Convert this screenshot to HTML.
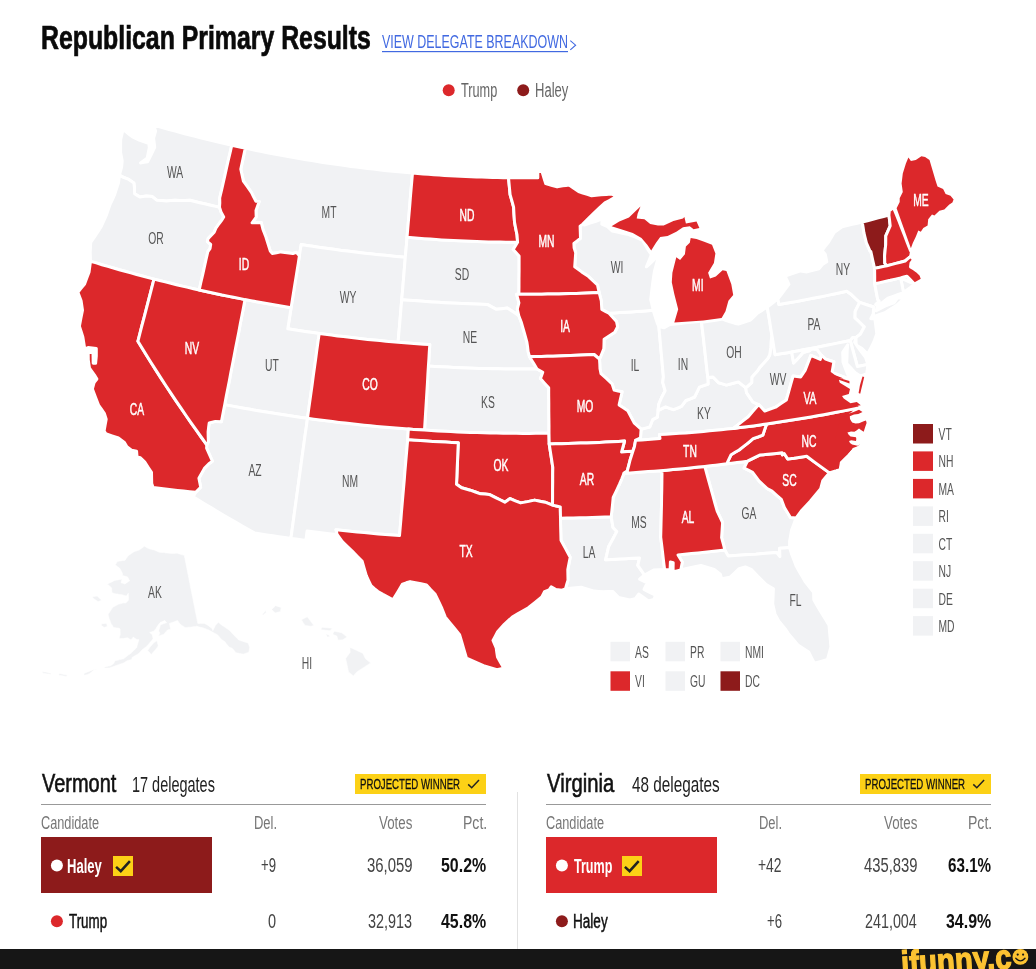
<!DOCTYPE html>
<html lang="en"><head><meta charset="utf-8"><title>Republican Primary Results</title>
<style>
html,body{margin:0;padding:0;background:#fff}
body{width:1036px;height:969px;position:relative;overflow:hidden;font-family:"Liberation Sans", Arial, sans-serif}
.t{position:absolute;white-space:nowrap;line-height:1;display:block}
.lnk{text-decoration:none}
.abs{position:absolute}
svg{position:absolute;left:0;top:0}
svg text{font-family:"Liberation Sans", Arial, sans-serif;font-size:17.2px;text-anchor:middle}
svg text.s{text-anchor:start;fill:#555}
svg text.w{stroke:#fff;stroke-width:0.5px}
#states path{stroke:#fff;stroke-width:3;stroke-linejoin:round}
#states path.px{stroke:none}
#states path.thin{stroke-width:0.6}
</style></head><body>
<svg width="1036" height="969" viewBox="0 0 1036 969">
<g id="states">
<path d="M153.5,125.1L158.7,126.6L163.9,128.0L169.1,129.5L174.3,130.9L179.5,132.3L184.7,133.7L189.9,135.1L195.1,136.4L200.3,137.7L205.6,139.0L210.8,140.3L216.0,141.5L221.3,142.8L226.5,144.0L231.8,145.2L230.1,152.7L228.3,160.2L226.6,167.7L224.9,175.3L223.2,182.8L221.5,190.4L219.7,198.0L219.8,203.0L219.5,207.2L214.5,206.1L209.6,205.0L204.6,203.8L199.7,202.7L194.8,201.5L189.9,200.3L184.9,200.6L180.0,200.4L175.1,200.3L170.8,200.6L166.5,200.9L161.6,200.6L156.7,200.2L152.3,196.6L149.3,196.2L146.3,195.9L139.9,196.9L137.2,195.4L134.6,193.8L134.5,188.7L133.9,183.0L131.0,181.1L128.1,179.1L122.6,177.0L119.4,175.0L121.6,167.2L122.2,160.8L120.6,152.6L120.6,146.0L120.7,139.4L121.9,134.4L123.1,129.5L126.4,132.1L129.7,134.7L133.1,137.2L136.1,138.7L139.2,140.1L142.8,141.4L146.4,142.7L148.7,142.3L149.3,147.9L148.2,153.1L147.1,158.3L140.5,162.9L144.0,162.3L147.6,161.7L151.0,155.0L154.7,147.3L153.6,138.2L155.6,131.1Z" fill="#f1f2f4"/>
<path d="M119.4,175.0L122.6,177.0L128.1,179.1L131.0,181.1L133.9,183.0L134.5,188.7L134.6,193.8L137.2,195.4L139.9,196.9L146.3,195.9L149.3,196.2L152.3,196.6L156.7,200.2L161.6,200.6L166.5,200.9L170.8,200.6L175.1,200.3L180.0,200.4L184.9,200.6L189.9,200.3L194.8,201.5L199.7,202.7L204.6,203.8L209.6,205.0L214.5,206.1L219.5,207.2L221.0,211.9L223.7,216.9L222.0,219.8L219.2,223.5L215.9,228.2L214.2,232.2L208.2,238.4L207.4,241.6L210.7,244.5L210.0,248.7L207.9,251.5L206.1,259.2L204.4,266.9L202.7,274.6L200.9,282.3L199.2,290.0L193.5,288.7L187.9,287.4L182.2,286.1L176.5,284.7L170.9,283.3L165.2,281.9L159.6,280.5L154.0,279.1L148.2,277.6L142.4,276.0L136.6,274.5L130.8,272.9L125.0,271.3L119.3,269.7L113.5,268.0L107.8,266.4L102.0,264.7L96.3,262.9L90.5,261.2L90.2,252.2L90.5,247.3L90.7,242.5L95.2,235.8L98.3,231.2L101.3,226.5L103.9,220.7L106.5,214.8L108.2,209.7L110.0,204.7L112.3,199.9L114.5,195.0L116.5,188.9L118.5,182.9Z" fill="#f1f2f4"/>
<path d="M245.3,148.1L250.8,149.3L256.3,150.5L261.8,151.6L267.4,152.7L272.9,153.8L278.4,154.8L284.0,155.8L289.5,156.8L295.1,157.8L300.6,158.8L306.2,159.7L311.8,160.6L317.3,161.5L322.9,162.4L328.5,163.2L334.1,164.1L339.6,164.8L345.2,165.6L350.8,166.4L356.4,167.1L362.0,167.8L367.6,168.5L373.2,169.1L378.8,169.8L384.4,170.4L390.0,170.9L395.6,171.5L401.3,172.0L406.9,172.6L412.5,173.0L411.8,181.0L411.1,189.0L410.4,197.1L409.8,205.1L409.1,213.1L408.4,221.2L407.7,229.3L407.0,237.3L406.5,244.0L405.9,250.6L405.3,257.2L399.5,256.7L393.7,256.2L387.9,255.6L382.1,255.1L376.3,254.5L370.5,253.8L364.7,253.2L359.0,252.5L353.2,251.8L347.4,251.1L341.6,250.4L335.8,249.6L330.0,248.8L324.3,248.0L318.5,247.2L312.7,246.3L307.0,245.4L301.2,244.5L300.3,250.1L299.4,255.6L296.2,252.3L292.9,253.5L286.9,252.7L280.9,251.9L276.6,252.7L272.2,253.4L270.3,251.1L267.7,242.8L266.0,237.3L262.9,229.2L261.3,222.6L256.7,222.7L252.1,222.8L256.2,217.1L256.0,210.6L257.6,206.1L259.2,201.5L255.9,201.3L253.6,196.9L251.4,192.4L247.4,186.7L243.4,181.1L242.1,175.1L240.8,169.1L242.3,162.1L243.8,155.1Z" fill="#f1f2f4"/>
<path d="M301.2,244.5L307.0,245.4L312.7,246.3L318.5,247.2L324.3,248.0L330.0,248.8L335.8,249.6L341.6,250.4L347.4,251.1L353.2,251.8L359.0,252.5L364.7,253.2L370.5,253.8L376.3,254.5L382.1,255.1L387.9,255.6L393.7,256.2L399.5,256.7L405.3,257.2L404.6,265.7L403.9,274.2L403.2,282.7L402.5,291.2L401.7,299.7L401.0,308.2L400.3,316.7L399.6,325.2L398.8,333.7L398.1,342.3L392.0,341.7L385.9,341.2L379.9,340.6L373.8,340.0L367.7,339.4L361.6,338.7L355.6,338.0L349.5,337.3L343.4,336.6L337.4,335.9L331.3,335.1L325.2,334.3L319.2,333.5L312.9,332.6L306.6,331.7L300.3,330.7L294.0,329.8L287.8,328.8L288.9,321.7L290.0,314.7L291.1,307.7L292.3,300.2L293.5,292.8L294.7,285.3L295.9,277.9L297.1,270.5L298.3,263.1L299.4,255.6L300.3,250.1Z" fill="#f1f2f4"/>
<path d="M245.0,299.6L250.8,300.6L256.5,301.7L262.3,302.8L268.1,303.8L273.8,304.8L279.6,305.8L285.4,306.7L291.1,307.7L290.0,314.7L288.9,321.7L287.8,328.8L294.0,329.8L300.3,330.7L306.6,331.7L312.9,332.6L319.2,333.5L318.0,341.9L316.8,350.4L315.7,358.9L314.5,367.4L313.3,375.9L312.2,384.4L311.0,392.9L309.8,401.4L308.6,409.9L307.5,418.3L301.1,417.5L294.7,416.5L288.3,415.6L281.9,414.6L275.5,413.6L269.2,412.6L262.8,411.5L256.4,410.5L250.1,409.3L243.7,408.2L237.3,407.1L231.0,405.9L224.7,404.7L226.2,396.6L227.8,388.5L229.4,380.4L230.9,372.3L232.5,364.2L234.1,356.1L235.6,348.0L237.2,340.0L238.8,331.9L240.3,323.8L241.9,315.7L243.5,307.6Z" fill="#f1f2f4"/>
<path d="M224.7,404.7L231.0,405.9L237.3,407.1L243.7,408.2L250.1,409.3L256.4,410.5L262.8,411.5L269.2,412.6L275.5,413.6L281.9,414.6L288.3,415.6L294.7,416.5L301.1,417.5L307.5,418.3L306.4,426.4L305.2,434.4L304.1,442.4L303.0,450.4L301.9,458.4L300.8,466.5L299.7,474.5L298.6,482.5L297.5,490.5L296.4,498.5L295.3,506.5L294.2,514.5L293.1,522.5L292.0,530.5L290.9,538.4L284.8,537.6L278.8,536.7L272.8,535.8L266.8,534.9L260.8,534.0L254.8,533.1L248.5,529.5L242.3,526.0L236.0,522.4L229.8,518.8L223.7,515.2L217.5,511.6L211.4,507.9L205.3,504.3L199.2,500.6L193.2,496.8L195.7,492.3L200.7,487.2L198.9,478.2L201.7,473.3L204.4,468.4L208.9,463.8L212.4,461.2L209.5,454.6L206.6,448.1L206.8,444.8L208.4,441.9L208.2,436.9L208.1,432.0L208.6,427.5L209.2,423.0L215.4,421.4L221.4,421.7L222.5,416.0L223.6,410.4Z" fill="#f1f2f4"/>
<path d="M307.5,418.3L313.8,419.2L320.0,420.0L326.3,420.8L332.6,421.6L338.9,422.4L345.2,423.1L351.6,423.8L357.9,424.5L364.2,425.2L370.5,425.8L376.8,426.4L383.1,427.0L389.5,427.5L395.8,428.1L402.1,428.6L408.4,429.0L408.0,434.4L407.7,439.7L407.0,447.7L406.3,455.7L405.6,463.7L404.9,471.7L404.3,479.7L403.6,487.7L402.9,495.7L402.2,503.7L401.5,511.7L400.9,519.7L400.2,527.6L399.5,535.6L392.4,535.1L385.4,534.5L378.3,533.9L371.3,533.3L364.2,532.6L357.1,531.9L350.1,531.2L343.1,530.5L336.0,529.7L337.1,534.5L331.1,533.9L325.1,533.2L319.1,532.4L313.1,531.7L307.1,530.9L306.5,535.7L305.9,540.4L300.9,539.8L295.9,539.1L290.9,538.4L292.0,530.5L293.1,522.5L294.2,514.5L295.3,506.5L296.4,498.5L297.5,490.5L298.6,482.5L299.7,474.5L300.8,466.5L301.9,458.4L303.0,450.4L304.1,442.4L305.2,434.4L306.4,426.4Z" fill="#f1f2f4"/>
<path d="M407.0,237.3L412.8,237.8L418.6,238.3L424.4,238.7L430.3,239.1L436.1,239.5L441.9,239.9L447.7,240.2L453.5,240.5L459.3,240.8L465.2,241.1L471.0,241.3L476.8,241.5L482.6,241.7L488.4,241.9L494.3,242.0L500.1,242.1L505.9,242.2L511.7,242.3L517.6,242.3L513.2,249.5L519.1,255.9L519.1,263.6L519.1,271.2L519.0,278.9L519.0,286.6L518.9,294.2L516.6,294.2L518.9,302.8L517.3,309.2L518.8,315.8L515.0,313.0L511.1,310.5L507.3,308.0L501.9,308.7L496.4,309.3L491.8,306.9L487.3,304.4L481.1,304.2L475.0,304.0L468.9,303.8L462.8,303.6L456.7,303.3L450.6,303.0L444.5,302.7L438.4,302.3L432.2,301.9L426.1,301.5L420.0,301.1L413.9,300.6L407.8,300.2L401.7,299.7L402.5,291.2L403.2,282.7L403.9,274.2L404.6,265.7L405.3,257.2L405.9,250.6L406.5,244.0Z" fill="#f1f2f4"/>
<path d="M401.7,299.7L407.8,300.2L413.9,300.6L420.0,301.1L426.1,301.5L432.2,301.9L438.4,302.3L444.5,302.7L450.6,303.0L456.7,303.3L462.8,303.6L468.9,303.8L475.0,304.0L481.1,304.2L487.3,304.4L491.8,306.9L496.4,309.3L501.9,308.7L507.3,308.0L511.1,310.5L515.0,313.0L518.8,315.8L521.2,322.0L522.7,327.3L524.3,332.7L525.6,337.4L526.9,342.1L527.6,347.0L528.2,351.9L529.5,356.7L533.9,363.7L537.0,369.0L530.6,369.1L524.2,369.1L517.8,369.1L511.4,369.0L505.0,368.9L498.6,368.8L492.2,368.7L485.9,368.6L479.5,368.4L473.1,368.2L466.7,367.9L460.3,367.7L453.9,367.4L447.6,367.1L441.2,366.7L434.8,366.4L428.4,366.0L428.9,358.9L429.3,351.7L429.8,344.6L423.5,344.2L417.1,343.8L410.8,343.3L404.5,342.8L398.1,342.3L398.8,333.7L399.6,325.2L400.3,316.7L401.0,308.2Z" fill="#f1f2f4"/>
<path d="M428.4,366.0L434.8,366.4L441.2,366.7L447.6,367.1L453.9,367.4L460.3,367.7L466.7,367.9L473.1,368.2L479.5,368.4L485.9,368.6L492.2,368.7L498.6,368.8L505.0,368.9L511.4,369.0L517.8,369.1L524.2,369.1L530.6,369.1L537.0,369.0L542.8,372.2L540.4,378.6L544.5,383.2L548.7,387.8L548.7,395.3L548.8,402.9L548.8,410.5L548.9,418.1L549.0,425.6L549.0,433.2L542.5,433.3L535.9,433.3L529.3,433.4L522.8,433.4L516.2,433.3L509.7,433.3L503.1,433.2L496.6,433.1L490.0,433.0L483.5,432.8L476.9,432.6L470.4,432.4L463.8,432.2L457.2,431.9L450.7,431.6L444.2,431.3L437.6,430.9L431.1,430.5L424.5,430.1L425.0,422.1L425.5,414.1L426.0,406.1L426.5,398.1L427.0,390.0L427.5,382.0L427.9,374.0Z" fill="#f1f2f4"/>
<path d="M560.5,518.2L566.8,518.1L573.2,518.0L579.5,517.8L585.9,517.7L592.2,517.5L598.6,517.3L604.9,517.1L611.2,516.8L612.1,522.1L613.0,527.4L616.8,531.5L612.7,539.2L608.6,546.8L607.1,553.3L605.6,559.8L612.4,559.4L619.2,559.1L625.9,558.7L632.7,558.3L639.5,557.9L637.8,565.4L641.1,570.2L644.5,575.0L639.6,579.2L647.2,582.9L644.0,589.5L649.7,592.3L655.5,595.1L654.0,599.5L648.5,600.9L643.6,597.5L638.7,594.1L635.3,598.6L629.8,600.0L624.1,598.7L618.5,597.4L612.6,591.4L608.0,591.6L603.4,591.8L598.8,591.5L594.1,591.1L587.6,589.2L581.1,587.3L575.9,587.8L570.7,588.3L565.5,588.8L566.7,584.5L568.0,580.2L567.9,574.9L567.8,569.6L569.0,563.4L570.2,557.2L567.8,552.8L565.4,548.4L561.0,540.2L560.8,532.8L560.6,525.5Z" fill="#f1f2f4"/>
<path d="M624.0,473.3L630.1,472.9L636.1,472.5L642.1,472.1L648.1,471.6L654.1,471.2L660.1,470.7L662.0,472.7L661.9,480.7L661.8,488.8L661.6,496.9L661.5,504.9L661.3,513.0L661.1,521.0L660.9,529.1L660.7,537.1L661.7,545.2L662.7,553.3L663.6,561.4L664.6,569.5L659.1,569.8L653.7,570.1L649.1,572.6L644.5,575.0L641.1,570.2L637.8,565.4L639.5,557.9L632.7,558.3L625.9,558.7L619.2,559.1L612.4,559.4L605.6,559.8L607.1,553.3L608.6,546.8L612.7,539.2L616.8,531.5L613.0,527.4L612.1,522.1L611.2,516.8L611.9,510.3L612.6,503.9L613.2,497.4L616.4,490.8L619.5,484.2L621.8,478.8Z" fill="#f1f2f4"/>
<path d="M704.8,466.4L710.2,465.8L715.7,465.2L721.2,464.5L726.7,463.8L731.8,463.2L737.0,462.5L742.2,461.9L747.4,461.2L744.1,468.1L748.3,470.2L752.6,472.3L755.8,476.7L759.1,481.1L767.2,488.6L772.0,491.1L776.7,495.3L781.3,499.4L784.4,507.6L787.4,512.5L790.4,517.5L796.0,518.1L793.8,524.2L791.5,530.2L790.6,535.8L789.6,541.3L789.6,547.6L784.6,547.9L779.6,548.2L779.9,556.6L776.6,552.5L769.7,553.1L762.7,553.6L755.8,554.2L748.9,554.6L742.0,555.1L735.1,555.5L728.1,555.9L724.9,550.1L723.3,543.8L721.6,537.6L722.1,530.0L722.6,522.5L719.8,516.7L717.1,510.8L715.0,503.5L713.0,496.1L710.9,488.6L708.8,481.2L706.8,473.8Z" fill="#f1f2f4"/>
<path d="M724.9,550.1L728.1,555.9L735.1,555.5L742.0,555.1L748.9,554.6L755.8,554.2L762.7,553.6L769.7,553.1L776.6,552.5L779.9,556.6L779.6,548.2L784.6,547.9L789.6,547.6L791.5,553.9L793.9,560.0L796.2,566.1L799.2,571.4L802.2,576.6L805.3,581.9L809.4,587.1L813.6,592.3L813.8,599.8L817.2,605.7L820.6,611.5L824.8,618.3L829.0,625.1L829.6,632.3L830.3,639.5L830.9,646.8L829.2,653.1L827.5,659.5L821.0,661.4L814.4,663.3L811.5,657.6L808.7,651.9L803.3,648.4L797.9,645.0L793.1,639.3L788.4,633.6L785.9,629.7L782.4,625.4L778.9,621.1L775.1,614.2L773.9,609.1L772.7,603.9L773.1,596.3L773.4,588.8L766.2,584.5L761.9,580.2L757.6,576.0L751.2,569.3L745.3,566.9L739.1,568.7L734.5,573.0L729.9,577.3L725.8,578.0L721.7,578.7L720.3,574.2L714.2,569.5L707.6,567.5L700.9,565.5L693.7,567.0L686.5,568.4L680.8,570.0L682.3,562.0L678.0,554.9L684.7,554.3L691.4,553.6L698.1,553.0L704.8,552.3L711.5,551.6L718.2,550.8Z" fill="#f1f2f4"/>
<path d="M641.1,429.2L645.4,428.1L649.8,427.0L652.6,419.7L657.4,417.2L658.0,410.7L661.9,408.7L665.7,406.8L669.6,408.3L673.5,409.7L677.5,408.1L681.5,406.4L685.9,400.5L690.3,398.8L694.6,397.0L697.0,392.1L699.4,387.2L703.7,385.7L708.1,384.1L707.8,377.6L713.0,377.0L718.6,382.8L722.5,383.9L726.4,385.1L732.4,383.5L738.4,381.9L742.1,384.9L745.8,387.8L746.5,392.7L749.7,397.3L752.9,402.0L758.8,404.6L753.5,410.6L748.2,416.7L743.2,420.6L738.2,424.6L733.2,428.5L727.3,429.1L721.3,429.7L715.4,430.3L709.5,430.8L703.6,431.4L697.7,431.9L691.7,432.4L685.8,432.9L679.2,433.3L672.6,433.8L666.0,434.2L659.4,434.6L660.0,438.5L653.9,439.0L647.8,439.4L641.7,439.9L635.6,440.3L640.5,437.8Z" fill="#f1f2f4"/>
<path d="M745.8,387.8L751.7,382.6L751.8,377.2L754.6,374.1L757.4,371.0L760.1,366.9L764.0,362.7L767.8,358.5L769.7,355.0L770.7,347.9L771.2,340.6L771.9,335.3L773.0,341.8L774.0,348.3L775.1,354.7L780.6,353.8L786.2,352.9L791.7,351.9L792.6,357.4L793.6,362.9L797.0,359.4L800.3,355.8L803.0,352.5L809.3,350.9L812.2,348.8L817.3,349.8L821.3,355.1L820.3,359.5L815.6,357.4L810.9,355.4L808.0,362.9L805.1,370.4L800.7,376.9L796.9,376.4L793.1,376.0L790.8,384.0L788.6,392.0L786.3,400.0L780.9,403.6L775.6,407.2L770.1,409.1L764.7,411.1L758.8,404.6L752.9,402.0L749.7,397.3L746.5,392.7Z" fill="#f1f2f4"/>
<path d="M609.0,313.3L614.5,313.0L620.0,312.6L625.6,312.3L631.1,312.0L636.6,311.6L642.1,311.2L647.7,310.8L653.2,310.3L655.3,317.0L657.5,323.7L658.9,326.6L659.6,334.9L660.4,343.3L661.1,351.7L661.9,360.1L662.6,368.5L663.4,376.9L662.7,382.3L665.1,390.7L661.6,397.5L658.8,404.2L658.0,410.7L657.4,417.2L652.6,419.7L649.8,427.0L645.4,428.1L641.1,429.2L634.4,423.2L631.1,417.0L627.8,410.8L623.4,407.8L619.1,404.9L621.1,396.2L622.1,391.8L618.1,391.0L614.1,390.1L612.1,383.8L606.6,378.7L601.0,373.7L600.0,368.8L599.8,364.0L599.5,359.2L601.7,354.0L603.8,348.9L604.0,344.0L604.1,339.2L609.5,335.7L614.8,332.2L617.6,326.7L616.5,321.4L612.7,317.3Z" fill="#f1f2f4"/>
<path d="M658.9,326.6L664.2,327.8L669.9,324.5L675.1,323.9L680.4,323.4L685.7,322.8L690.9,322.3L696.2,321.7L701.4,321.1L702.3,329.1L703.3,337.2L704.2,345.3L705.1,353.4L706.0,361.5L706.9,369.6L707.8,377.6L708.1,384.1L703.7,385.7L699.4,387.2L697.0,392.1L694.6,397.0L690.3,398.8L685.9,400.5L681.5,406.4L677.5,408.1L673.5,409.7L669.6,408.3L665.7,406.8L661.9,408.7L658.0,410.7L658.8,404.2L661.6,397.5L665.1,390.7L662.7,382.3L663.4,376.9L662.6,368.5L661.9,360.1L661.1,351.7L660.4,343.3L659.6,334.9Z" fill="#f1f2f4"/>
<path d="M701.4,321.1L701.6,322.3L706.8,321.5L712.1,320.7L717.3,319.9L722.6,319.0L726.3,320.5L730.1,321.9L735.1,323.4L738.4,324.0L744.5,322.0L750.5,320.0L754.0,316.6L757.4,313.1L762.4,310.1L767.3,307.0L768.4,314.1L769.6,321.1L770.7,328.2L771.9,335.3L771.2,340.6L770.7,347.9L769.7,355.0L767.8,358.5L764.0,362.7L760.1,366.9L757.4,371.0L754.6,374.1L751.8,377.2L751.7,382.6L745.8,387.8L742.1,384.9L738.4,381.9L732.4,383.5L726.4,385.1L722.5,383.9L718.6,382.8L713.0,377.0L707.8,377.6L706.9,369.6L706.0,361.5L705.1,353.4L704.2,345.3L703.3,337.2L702.3,329.1Z" fill="#f1f2f4"/>
<path d="M653.2,310.3L647.7,310.8L642.1,311.2L636.6,311.6L631.1,312.0L625.6,312.3L620.0,312.6L614.5,313.0L609.0,313.3L605.4,311.3L601.8,309.4L601.3,300.8L599.1,292.4L597.5,285.0L592.7,280.5L587.9,275.9L581.7,271.9L578.2,269.3L574.7,266.8L575.2,259.9L575.7,252.9L574.1,247.7L573.9,243.5L577.2,240.9L580.5,238.3L580.3,232.2L580.1,226.1L582.8,224.1L584.3,225.1L590.0,223.2L595.8,221.3L599.0,220.1L602.2,218.9L601.8,224.2L607.5,226.6L612.1,231.0L617.2,232.1L622.3,233.2L627.4,234.2L631.2,235.5L635.0,236.9L638.8,238.7L642.7,240.5L645.3,245.1L647.9,249.6L651.4,254.6L648.9,260.7L646.4,266.8L650.3,263.3L654.1,259.7L657.1,255.2L660.0,250.7L658.2,257.6L656.3,264.5L654.4,271.5L653.4,278.0L652.5,284.5L651.6,292.0L650.7,299.6L652.0,305.0Z" fill="#f1f2f4"/>
<path d="M767.3,307.0L772.6,303.0L777.9,298.9L778.9,304.6L784.6,303.6L790.3,302.6L795.9,301.6L801.6,300.5L807.2,299.4L812.9,298.3L818.5,297.2L824.2,296.1L829.8,294.9L835.4,293.7L841.1,292.5L846.7,291.3L851.4,294.6L855.5,298.5L859.7,302.4L855.2,311.3L855.0,317.9L857.0,319.7L864.4,326.8L860.3,334.3L856.0,337.4L852.8,337.5L850.3,340.5L844.4,341.7L838.6,342.9L832.7,344.1L826.9,345.3L821.0,346.5L815.2,347.6L809.3,348.7L803.4,349.8L797.6,350.9L791.7,351.9L786.2,352.9L780.6,353.8L775.1,354.7L774.0,348.3L773.0,341.8L771.9,335.3L770.7,328.2L769.6,321.1L768.4,314.1Z" fill="#f1f2f4"/>
<path d="M777.9,298.9L781.6,294.1L785.3,289.2L788.9,284.4L787.0,280.2L785.1,276.0L790.2,274.3L795.4,272.6L800.5,270.9L803.8,271.4L807.0,271.9L812.9,270.4L818.9,268.8L822.7,264.3L826.8,261.7L825.3,254.4L822.1,250.3L825.4,246.0L828.8,241.7L831.6,237.0L834.4,232.2L838.3,229.5L842.1,226.8L847.2,225.6L852.2,224.4L857.2,223.2L862.2,222.0L863.1,227.3L863.9,232.6L865.1,237.7L866.4,242.9L869.9,250.8L870.9,251.7L872.7,260.0L874.6,268.4L874.7,276.0L874.7,283.7L876.2,291.6L877.7,299.5L879.2,301.3L875.9,304.3L877.6,306.1L876.3,310.8L880.6,308.5L885.0,306.1L889.5,304.4L894.0,302.8L897.6,297.9L901.2,297.8L904.8,297.8L900.6,301.6L896.3,305.5L890.6,309.1L884.9,312.7L879.6,314.5L874.3,316.4L873.2,313.8L873.8,307.0L866.7,304.7L859.7,302.4L855.5,298.5L851.4,294.6L846.7,291.3L841.1,292.5L835.4,293.7L829.8,294.9L824.2,296.1L818.5,297.2L812.9,298.3L807.2,299.4L801.6,300.5L795.9,301.6L790.3,302.6L784.6,303.6L778.9,304.6Z" fill="#f1f2f4"/>
<path d="M859.7,302.4L866.7,304.7L873.8,307.0L873.2,313.8L870.8,318.7L874.8,318.4L875.8,326.1L876.8,333.8L873.7,342.2L870.7,348.1L867.6,354.0L861.8,348.2L856.1,345.1L856.0,337.4L860.3,334.3L864.4,326.8L857.0,319.7L855.0,317.9L855.2,311.3Z" fill="#f1f2f4"/>
<path d="M850.3,340.5L852.8,337.5L856.0,337.4L854.6,342.1L858.4,347.9L861.9,352.6L865.5,357.3L867.9,364.4L862.6,365.5L857.4,366.5L855.6,360.0L853.8,353.5L852.0,347.0Z" fill="#f1f2f4"/>
<path d="M791.7,351.9L797.6,350.9L803.4,349.8L809.3,348.7L815.2,347.6L821.0,346.5L826.9,345.3L832.7,344.1L838.6,342.9L844.4,341.7L850.3,340.5L852.0,347.0L853.8,353.5L855.6,360.0L857.4,366.5L862.6,365.5L867.9,364.4L867.3,369.2L866.6,373.9L863.5,375.0L860.3,376.0L855.3,372.7L851.0,368.1L846.7,363.6L847.0,356.9L847.2,350.3L847.7,344.7L845.2,348.5L842.7,352.4L842.9,357.2L843.0,362.1L844.9,367.2L846.8,372.3L850.0,379.3L843.6,376.8L837.1,374.3L831.9,373.2L832.9,367.5L833.9,361.8L829.8,360.5L825.7,359.1L821.3,355.1L817.3,349.8L812.2,348.8L809.3,350.9L803.0,352.5L800.3,355.8L797.0,359.4L793.6,362.9L792.6,357.4Z" fill="#f1f2f4"/>
<path d="M900.6,277.9L903.8,277.0L907.0,276.2L910.7,280.1L914.5,284.0L907.5,281.0L900.6,277.9L902.1,285.2L903.5,292.6L906.6,290.3L909.8,288.1L914.5,284.0L907.5,281.0Z" fill="#f1f2f4"/>
<path d="M874.7,283.7L879.9,282.6L885.1,281.4L890.3,280.3L895.4,279.1L900.6,277.9L902.1,285.2L903.5,292.6L898.3,294.5L893.1,296.3L887.9,298.1L882.8,302.1L877.6,306.1L875.9,304.3L879.2,301.3L877.7,299.5L876.2,291.6Z" fill="#f1f2f4"/>
<path d="M90.5,261.2L96.3,262.9L102.0,264.7L107.8,266.4L113.5,268.0L119.3,269.7L125.0,271.3L130.8,272.9L136.6,274.5L142.4,276.0L148.2,277.6L154.0,279.1L148.2,277.6L142.4,276.0L136.6,274.5L130.8,272.9L125.0,271.3L119.3,269.7L113.5,268.0L107.8,266.4L102.0,264.7L96.3,262.9L90.5,261.2L89.8,266.6L89.1,271.9L86.8,278.0L84.6,284.0L81.2,288.1L77.9,292.2L81.1,300.8L82.5,310.2L80.9,318.1L79.4,326.1L81.2,331.6L82.9,337.2L83.8,343.0L84.7,348.8L88.0,347.6L92.2,348.1L96.3,348.6L96.3,356.0L95.6,363.3L93.2,363.3L93.1,357.7L93.0,352.2L88.2,352.6L88.3,360.0L89.5,368.1L92.0,371.6L94.5,375.1L96.9,379.1L94.1,382.7L92.4,388.9L95.4,397.0L98.5,405.1L101.4,409.2L104.3,413.3L106.2,419.3L105.1,425.1L104.1,430.9L105.7,433.6L112.0,435.8L118.4,438.0L121.4,440.2L124.4,442.4L126.9,446.7L131.5,450.1L136.6,451.3L137.0,456.9L140.4,457.7L144.8,462.1L148.1,467.2L151.5,472.4L151.6,477.9L151.7,483.4L153.1,487.4L159.2,488.2L165.3,488.9L171.4,489.7L177.5,490.4L183.5,491.0L189.6,491.7L195.7,492.3L200.7,487.2L198.9,478.2L201.7,473.3L204.4,468.4L208.9,463.8L212.4,461.2L209.5,454.6L206.6,448.1L206.8,444.8L201.5,437.5L196.3,430.2L191.1,422.9L186.0,415.5L181.0,408.2L176.0,400.8L171.0,393.4L166.1,386.0L161.3,378.6L156.5,371.1L151.8,363.7L147.1,356.2L142.5,348.8L137.9,341.3L139.9,333.5L141.9,325.7L144.0,317.9L146.0,310.2L148.0,302.4L150.0,294.6L152.0,286.8L154.0,279.1L148.2,277.6L142.4,276.0L136.6,274.5L130.8,272.9L125.0,271.3L119.3,269.7L113.5,268.0L107.8,266.4L102.0,264.7L96.3,262.9Z" fill="#dc282b"/>
<path d="M154.0,279.1L159.6,280.5L165.2,281.9L170.9,283.3L176.5,284.7L182.2,286.1L187.9,287.4L193.5,288.7L199.2,290.0L204.9,291.3L210.6,292.5L216.3,293.7L222.1,295.0L227.8,296.1L233.5,297.3L239.3,298.4L245.0,299.6L243.5,307.6L241.9,315.7L240.3,323.8L238.8,331.9L237.2,340.0L235.6,348.0L234.1,356.1L232.5,364.2L230.9,372.3L229.4,380.4L227.8,388.5L226.2,396.6L224.7,404.7L223.6,410.4L222.5,416.0L221.4,421.7L215.4,421.4L209.2,423.0L208.6,427.5L208.1,432.0L208.2,436.9L208.4,441.9L206.8,444.8L201.5,437.5L196.3,430.2L191.1,422.9L186.0,415.5L181.0,408.2L176.0,400.8L171.0,393.4L166.1,386.0L161.3,378.6L156.5,371.1L151.8,363.7L147.1,356.2L142.5,348.8L137.9,341.3L139.9,333.5L141.9,325.7L144.0,317.9L146.0,310.2L148.0,302.4L150.0,294.6L152.0,286.8Z" fill="#dc282b"/>
<path d="M231.8,145.2L236.3,146.2L240.8,147.2L245.3,148.1L243.8,155.1L242.3,162.1L240.8,169.1L242.1,175.1L243.4,181.1L247.4,186.7L251.4,192.4L253.6,196.9L255.9,201.3L259.2,201.5L257.6,206.1L256.0,210.6L256.2,217.1L252.1,222.8L256.7,222.7L261.3,222.6L262.9,229.2L266.0,237.3L267.7,242.8L270.3,251.1L272.2,253.4L276.6,252.7L280.9,251.9L286.9,252.7L292.9,253.5L296.2,252.3L299.4,255.6L298.3,263.1L297.1,270.5L295.9,277.9L294.7,285.3L293.5,292.8L292.3,300.2L291.1,307.7L285.4,306.7L279.6,305.8L273.8,304.8L268.1,303.8L262.3,302.8L256.5,301.7L250.8,300.6L245.0,299.6L239.3,298.4L233.5,297.3L227.8,296.1L222.1,295.0L216.3,293.7L210.6,292.5L204.9,291.3L199.2,290.0L200.9,282.3L202.7,274.6L204.4,266.9L206.1,259.2L207.9,251.5L210.0,248.7L210.7,244.5L207.4,241.6L208.2,238.4L214.2,232.2L215.9,228.2L219.2,223.5L222.0,219.8L223.7,216.9L221.0,211.9L219.5,207.2L219.8,203.0L219.7,198.0L221.5,190.4L223.2,182.8L224.9,175.3L226.6,167.7L228.3,160.2L230.1,152.7Z" fill="#dc282b"/>
<path d="M319.2,333.5L325.2,334.3L331.3,335.1L337.4,335.9L343.4,336.6L349.5,337.3L355.6,338.0L361.6,338.7L367.7,339.4L373.8,340.0L379.9,340.6L385.9,341.2L392.0,341.7L398.1,342.3L404.5,342.8L410.8,343.3L417.1,343.8L423.5,344.2L429.8,344.6L429.3,351.7L428.9,358.9L428.4,366.0L427.9,374.0L427.5,382.0L427.0,390.0L426.5,398.1L426.0,406.1L425.5,414.1L425.0,422.1L424.5,430.1L419.2,429.8L413.8,429.4L408.4,429.0L402.1,428.6L395.8,428.1L389.5,427.5L383.1,427.0L376.8,426.4L370.5,425.8L364.2,425.2L357.9,424.5L351.6,423.8L345.2,423.1L338.9,422.4L332.6,421.6L326.3,420.8L320.0,420.0L313.8,419.2L307.5,418.3L308.6,409.9L309.8,401.4L311.0,392.9L312.2,384.4L313.3,375.9L314.5,367.4L315.7,358.9L316.8,350.4L318.0,341.9Z" fill="#dc282b"/>
<path d="M412.5,173.0L417.8,173.5L423.1,173.9L428.5,174.3L433.8,174.7L439.1,175.0L444.5,175.4L449.8,175.7L455.1,176.0L460.5,176.3L465.8,176.5L471.1,176.7L476.5,176.9L481.8,177.1L487.1,177.3L492.5,177.4L497.8,177.6L503.2,177.7L508.5,177.7L509.3,186.1L510.1,194.6L511.9,200.9L513.6,207.2L514.0,214.6L514.5,222.0L515.7,228.4L517.0,234.7L517.6,242.3L511.7,242.3L505.9,242.2L500.1,242.1L494.3,242.0L488.4,241.9L482.6,241.7L476.8,241.5L471.0,241.3L465.2,241.1L459.3,240.8L453.5,240.5L447.7,240.2L441.9,239.9L436.1,239.5L430.3,239.1L424.4,238.7L418.6,238.3L412.8,237.8L407.0,237.3L407.7,229.3L408.4,221.2L409.1,213.1L409.8,205.1L410.4,197.1L411.1,189.0L411.8,181.0Z" fill="#dc282b"/>
<path d="M424.5,430.1L431.1,430.5L437.6,430.9L444.2,431.3L450.7,431.6L457.2,431.9L463.8,432.2L470.4,432.4L476.9,432.6L483.5,432.8L490.0,433.0L496.6,433.1L503.1,433.2L509.7,433.3L516.2,433.3L522.8,433.4L529.3,433.4L535.9,433.3L542.5,433.3L549.0,433.2L549.1,438.6L549.2,443.9L550.4,451.7L551.6,459.6L552.8,467.4L552.7,475.0L552.7,482.5L552.6,490.0L552.6,497.6L552.5,505.1L548.8,503.6L545.1,502.2L539.8,501.2L534.6,500.1L527.6,501.6L520.6,502.9L515.3,500.8L510.1,498.6L504.8,502.2L500.5,500.0L496.1,497.8L489.2,494.4L484.9,494.1L480.5,493.8L475.4,492.0L470.2,490.2L465.9,489.0L461.6,487.8L456.5,484.2L456.9,475.9L457.2,467.6L457.6,459.3L457.9,451.0L458.3,442.7L451.9,442.4L445.6,442.1L439.3,441.7L432.9,441.4L426.6,441.0L420.3,440.6L414.0,440.2L407.7,439.7L408.0,434.4L408.4,429.0L413.8,429.4L419.2,429.8Z" fill="#dc282b"/>
<path d="M407.7,439.7L414.0,440.2L420.3,440.6L426.6,441.0L432.9,441.4L439.3,441.7L445.6,442.1L451.9,442.4L458.3,442.7L457.9,451.0L457.6,459.3L457.2,467.6L456.9,475.9L456.5,484.2L461.6,487.8L465.9,489.0L470.2,490.2L475.4,492.0L480.5,493.8L484.9,494.1L489.2,494.4L496.1,497.8L500.5,500.0L504.8,502.2L510.1,498.6L515.3,500.8L520.6,502.9L527.6,501.6L534.6,500.1L539.8,501.2L545.1,502.2L548.8,503.6L552.5,505.1L556.4,506.0L560.3,506.9L560.4,512.5L560.5,518.2L560.6,525.5L560.8,532.8L561.0,540.2L565.4,548.4L567.8,552.8L570.2,557.2L569.0,563.4L567.8,569.6L567.9,574.9L568.0,580.2L566.7,584.5L565.5,588.8L561.9,590.2L556.0,589.5L551.2,586.8L549.0,590.0L544.5,591.6L541.8,596.9L535.1,602.3L528.4,607.7L523.1,610.8L517.7,613.9L512.3,617.0L508.3,620.7L504.3,624.3L497.6,631.8L495.3,636.1L493.0,640.4L496.2,647.9L496.8,652.5L497.5,657.0L500.4,662.2L503.3,667.3L503.7,668.2L496.9,669.8L490.2,667.7L483.5,665.7L477.8,663.2L472.1,660.6L466.5,658.1L464.2,650.3L461.9,642.5L459.6,634.6L454.8,628.8L450.0,623.0L445.3,617.1L441.9,608.5L438.6,601.4L435.2,594.3L430.8,589.7L426.5,584.9L421.0,583.8L415.5,582.7L410.1,581.6L406.3,582.8L402.5,584.1L397.8,591.9L393.0,599.7L388.0,597.0L382.9,594.3L377.9,591.5L374.4,588.6L371.0,585.6L368.6,580.6L366.3,575.6L364.2,568.4L362.2,561.3L357.2,556.2L352.2,551.1L347.2,546.4L342.3,541.7L337.1,534.5L336.0,529.7L343.1,530.5L350.1,531.2L357.1,531.9L364.2,532.6L371.3,533.3L378.3,533.9L385.4,534.5L392.4,535.1L399.5,535.6L400.2,527.6L400.9,519.7L401.5,511.7L402.2,503.7L402.9,495.7L403.6,487.7L404.3,479.7L404.9,471.7L405.6,463.7L406.3,455.7L407.0,447.7Z" fill="#dc282b"/>
<path d="M508.5,177.7L513.4,177.8L518.3,177.8L523.2,177.8L528.1,177.8L532.9,177.8L537.8,177.8L537.8,169.8L542.0,171.5L543.8,177.5L545.7,183.6L551.4,185.3L557.1,186.9L562.7,185.7L565.9,185.4L569.1,185.1L573.8,188.3L578.6,191.5L582.9,193.0L587.3,194.4L591.6,195.8L596.2,195.2L600.9,194.7L606.2,194.4L611.6,194.0L616.7,196.2L612.8,198.5L608.9,200.7L604.9,202.9L599.4,207.9L593.9,213.0L588.3,218.5L582.8,224.1L580.1,226.1L580.3,232.2L580.5,238.3L577.2,240.9L573.9,243.5L574.1,247.7L575.7,252.9L575.2,259.9L574.7,266.8L578.2,269.3L581.7,271.9L587.9,275.9L592.7,280.5L597.5,285.0L599.1,292.4L593.3,292.7L587.6,292.9L581.9,293.2L576.2,293.4L570.5,293.6L564.7,293.7L559.0,293.9L553.3,294.0L547.6,294.1L541.8,294.2L536.1,294.2L530.4,294.3L524.7,294.3L518.9,294.2L519.0,286.6L519.0,278.9L519.1,271.2L519.1,263.6L519.1,255.9L513.2,249.5L517.6,242.3L517.0,234.7L515.7,228.4L514.5,222.0L514.0,214.6L513.6,207.2L511.9,200.9L510.1,194.6L509.3,186.1Z" fill="#dc282b"/>
<path d="M518.9,294.2L524.7,294.3L530.4,294.3L536.1,294.2L541.8,294.2L547.6,294.1L553.3,294.0L559.0,293.9L564.7,293.7L570.5,293.6L576.2,293.4L581.9,293.2L587.6,292.9L593.3,292.7L599.1,292.4L601.3,300.8L601.8,309.4L605.4,311.3L609.0,313.3L612.7,317.3L616.5,321.4L617.6,326.7L614.8,332.2L609.5,335.7L604.1,339.2L604.0,344.0L603.8,348.9L601.7,354.0L599.5,359.2L594.0,354.5L588.2,354.8L582.3,355.1L576.4,355.3L570.6,355.6L564.7,355.8L558.9,356.0L553.0,356.2L547.1,356.3L541.3,356.5L535.4,356.6L529.5,356.7L528.2,351.9L527.6,347.0L526.9,342.1L525.6,337.4L524.3,332.7L522.7,327.3L521.2,322.0L518.8,315.8L517.3,309.2L518.9,302.8L516.6,294.2Z" fill="#dc282b"/>
<path d="M529.5,356.7L535.4,356.6L541.3,356.5L547.1,356.3L553.0,356.2L558.9,356.0L564.7,355.8L570.6,355.6L576.4,355.3L582.3,355.1L588.2,354.8L594.0,354.5L599.5,359.2L599.8,364.0L600.0,368.8L601.0,373.7L606.6,378.7L612.1,383.8L614.1,390.1L618.1,391.0L622.1,391.8L621.1,396.2L619.1,404.9L623.4,407.8L627.8,410.8L631.1,417.0L634.4,423.2L641.1,429.2L640.5,437.8L635.6,440.3L634.4,446.8L632.9,451.2L627.3,451.6L621.6,452.0L623.1,446.5L624.6,441.0L618.4,441.4L612.1,441.8L605.8,442.1L599.5,442.4L593.2,442.7L586.9,442.9L580.6,443.1L574.3,443.3L568.0,443.5L561.8,443.7L555.5,443.8L549.2,443.9L549.1,438.6L549.0,433.2L549.0,425.6L548.9,418.1L548.8,410.5L548.8,402.9L548.7,395.3L548.7,387.8L544.5,383.2L540.4,378.6L542.8,372.2L537.0,369.0L533.9,363.7Z" fill="#dc282b"/>
<path d="M549.2,443.9L555.5,443.8L561.8,443.7L568.0,443.5L574.3,443.3L580.6,443.1L586.9,442.9L593.2,442.7L599.5,442.4L605.8,442.1L612.1,441.8L618.4,441.4L624.6,441.0L623.1,446.5L621.6,452.0L627.3,451.6L632.9,451.2L630.1,460.0L628.7,465.5L627.3,470.9L624.0,473.3L621.8,478.8L619.5,484.2L616.4,490.8L613.2,497.4L612.6,503.9L611.9,510.3L611.2,516.8L604.9,517.1L598.6,517.3L592.2,517.5L585.9,517.7L579.5,517.8L573.2,518.0L566.8,518.1L560.5,518.2L560.4,512.5L560.3,506.9L556.4,506.0L552.5,505.1L552.6,497.6L552.6,490.0L552.7,482.5L552.7,475.0L552.8,467.4L551.6,459.6L550.4,451.7Z" fill="#dc282b"/>
<path d="M660.1,470.7L666.5,470.2L672.9,469.6L679.3,469.0L685.7,468.4L692.0,467.8L698.4,467.1L704.8,466.4L706.8,473.8L708.8,481.2L710.9,488.6L713.0,496.1L715.0,503.5L717.1,510.8L719.8,516.7L722.6,522.5L722.1,530.0L721.6,537.6L723.3,543.8L724.9,550.1L718.2,550.8L711.5,551.6L704.8,552.3L698.1,553.0L691.4,553.6L684.7,554.3L678.0,554.9L682.3,562.0L680.8,570.0L676.9,570.9L673.1,571.8L673.1,567.3L673.2,562.8L670.4,562.0L670.1,569.9L664.6,569.5L663.6,561.4L662.7,553.3L661.7,545.2L660.7,537.1L660.9,529.1L661.1,521.0L661.3,513.0L661.5,504.9L661.6,496.9L661.8,488.8L661.9,480.7L662.0,472.7Z" fill="#dc282b"/>
<path d="M747.4,461.2L753.5,458.1L759.7,455.1L765.3,454.6L770.8,454.0L776.4,453.4L782.0,452.8L782.3,454.9L784.2,453.5L787.7,459.0L794.0,458.2L800.4,457.2L806.7,456.3L814.2,461.9L821.8,467.4L829.4,472.9L826.1,476.7L822.8,480.6L820.7,488.6L815.5,494.9L810.3,501.2L806.1,505.7L801.9,510.2L796.0,518.1L790.4,517.5L787.4,512.5L784.4,507.6L781.3,499.4L776.7,495.3L772.0,491.1L767.2,488.6L759.1,481.1L755.8,476.7L752.6,472.3L748.3,470.2L744.1,468.1Z" fill="#dc282b"/>
<path d="M766.6,424.0L773.0,423.0L779.3,422.1L785.7,421.1L792.0,420.1L798.4,419.1L804.7,418.0L811.0,416.9L817.4,415.8L823.7,414.7L830.0,413.5L836.3,412.3L842.6,411.1L848.9,409.9L855.2,408.6L861.5,407.3L856.0,410.5L852.3,413.3L848.5,416.0L847.3,424.0L846.0,432.0L846.8,436.5L847.5,441.0L851.0,446.5L854.0,449.0L848.5,455.3L843.9,459.9L841.0,462.5L840.3,469.3L834.9,471.1L829.4,472.9L821.8,467.4L814.2,461.9L806.7,456.3L800.4,457.2L794.0,458.2L787.7,459.0L784.2,453.5L782.3,454.9L782.0,452.8L776.4,453.4L770.8,454.0L765.3,454.6L759.7,455.1L753.5,458.1L747.4,461.2L742.2,461.9L737.0,462.5L731.8,463.2L726.7,463.8L731.1,454.7L735.1,452.3L739.1,450.0L743.0,446.9L746.9,443.9L750.0,441.3L753.1,438.7L758.0,437.0L762.8,435.2L764.7,429.6Z" fill="#dc282b"/>
<path d="M635.6,440.3L641.7,439.9L647.8,439.4L653.9,439.0L660.0,438.5L659.4,434.6L666.0,434.2L672.6,433.8L679.2,433.3L685.8,432.9L691.7,432.4L697.7,431.9L703.6,431.4L709.5,430.8L715.4,430.3L721.3,429.7L727.3,429.1L733.2,428.5L739.9,427.6L746.6,426.8L753.3,425.9L760.0,424.9L766.6,424.0L764.7,429.6L762.8,435.2L758.0,437.0L753.1,438.7L750.0,441.3L746.9,443.9L743.0,446.9L739.1,450.0L735.1,452.3L731.1,454.7L726.7,463.8L721.2,464.5L715.7,465.2L710.2,465.8L704.8,466.4L698.4,467.1L692.0,467.8L685.7,468.4L679.3,469.0L672.9,469.6L666.5,470.2L660.1,470.7L654.1,471.2L648.1,471.6L642.1,472.1L636.1,472.5L630.1,472.9L624.0,473.3L627.3,470.9L628.7,465.5L630.1,460.0L632.9,451.2L634.4,446.8Z" fill="#dc282b"/>
<path d="M758.8,404.6L764.7,411.1L770.1,409.1L775.6,407.2L780.9,403.6L786.3,400.0L788.6,392.0L790.8,384.0L793.1,376.0L796.9,376.4L800.7,376.9L805.1,370.4L808.0,362.9L810.9,355.4L815.6,357.4L820.3,359.5L821.3,355.1L825.7,359.1L829.8,360.5L833.9,361.8L832.9,367.5L831.9,373.2L837.1,374.3L843.6,376.8L850.0,379.3L844.2,379.7L838.5,380.0L838.5,383.0L839.8,389.8L841.0,396.5L843.0,399.5L850.0,404.0L853.5,403.5L857.0,403.0L861.5,407.3L855.2,408.6L848.9,409.9L842.6,411.1L836.3,412.3L830.0,413.5L823.7,414.7L817.4,415.8L811.0,416.9L804.7,418.0L798.4,419.1L792.0,420.1L785.7,421.1L779.3,422.1L773.0,423.0L766.6,424.0L760.0,424.9L753.3,425.9L746.6,426.8L739.9,427.6L733.2,428.5L738.2,424.6L743.2,420.6L748.2,416.7L753.5,410.6Z" fill="#dc282b"/>
<path class="px" d="M611.6,226.3L619.3,221.5L629.0,217.6L635.7,210.9L640.5,206.6L637.6,213.8L636.7,218.6L644.4,219.2L650.2,224.0L657.9,225.4L663.7,225.4L673.4,220.9L683.0,218.6L684.4,217.1L685.9,223.4L696.5,221.5L699.4,227.9L693.6,229.2L689.8,226.3L683.0,227.3L676.3,231.7L667.6,236.0L660.2,237.0L656.0,242.7L651.2,250.5L647.3,244.7L641.5,237.9L632.8,233.1L621.2,229.2ZM690.7,237.9L696.5,238.9L704.2,241.8L712.0,244.7L715.4,253.4L713.9,263.0L708.1,272.7L710.0,278.5L715.8,276.5L722.6,270.3L726.4,271.1L731.3,284.2L733.2,294.9L728.4,300.7L725.5,311.3L721.6,318.0L703.3,320.5L674.3,322.5L678.2,309.3L674.3,293.9L671.8,282.3L672.4,272.7L676.3,257.2L680.1,260.1L684.9,254.3L685.9,246.6L689.8,242.7Z" fill="#dc282b"/>
<path d="M862.2,222.0L867.6,220.7L872.9,219.3L878.3,217.9L883.6,216.5L888.9,215.1L889.6,220.5L890.2,225.9L888.0,230.9L885.8,235.9L885.7,244.7L885.1,250.3L884.6,256.0L884.8,263.2L886.9,265.7L882.8,266.6L878.7,267.5L874.6,268.4L872.7,260.0L870.9,251.7L869.9,250.8L866.4,242.9L865.1,237.7L863.9,232.6L863.1,227.3Z" fill="#8d1b1b"/>
<path d="M888.9,215.1L889.3,210.8L893.4,207.5L896.1,214.0L898.8,220.6L901.6,227.9L904.5,235.3L907.3,242.6L910.3,250.3L911.4,251.8L910.7,256.4L907.9,258.7L905.1,261.0L900.5,262.2L896.0,263.4L891.4,264.6L886.9,265.7L884.8,263.2L884.6,256.0L885.1,250.3L885.7,244.7L885.8,235.9L888.0,230.9L890.2,225.9L889.6,220.5Z" fill="#dc282b"/>
<path class="px" d="M896.6,208.2L899.7,202.0L899.7,198.3L902.8,192.1L901.6,183.4L902.8,173.5L905.9,163.6L908.4,157.4L910.9,161.1L915.8,159.9L921.4,156.2L925.1,157.0L929.5,160.1L932.0,168.5L935.7,180.9L937.5,186.5L943.1,189.0L945.6,193.9L950.5,195.8L953.6,199.5L952.4,202.6L949.3,204.5L944.3,209.4L939.4,210.7L934.4,215.6L932.0,214.4L928.2,219.3L927.6,225.5L923.3,228.0L920.8,231.7L918.3,230.5L915.8,236.7L912.8,242.9L910.9,248.3Z" fill="#dc282b"/>
<path d="M874.6,268.4L878.7,267.5L882.8,266.6L886.9,265.7L891.4,264.6L896.0,263.4L900.5,262.2L905.1,261.0L907.9,258.7L910.7,256.4L913.5,259.5L911.0,263.0L910.5,267.0L914.0,269.0L917.5,271.5L921.0,275.0L922.5,279.5L918.0,282.0L914.5,284.0L910.7,280.1L907.0,276.2L903.8,277.0L900.6,277.9L895.4,279.1L890.3,280.3L885.1,281.4L879.9,282.6L874.7,283.7L874.7,276.0Z" fill="#dc282b"/>
<path class="px" d="M826.0,368.0L830.1,371.4L835.2,375.3L839.2,378.0L849.4,381.1L849.5,383.4L838.9,379.8L839.8,382.7L850.0,388.9L848.8,394.1L842.0,396.0L843.7,398.6L850.5,403.2L856.8,401.9L860.8,405.3L826.0,411.0Z" fill="#dc282b"/>
<path class="px" d="M862.5,376.5L864.2,377.0L862.3,385.0L860.2,393.8L858.6,393.0L860.0,385.0Z" fill="#dc282b"/>
<path class="px" d="M846.0,414.5L853.0,412.3L859.0,409.7L862.5,412.0L858.3,413.9L854.0,414.5L849.8,416.3L850.0,419.0L852.1,422.4L855.5,423.5L859.0,423.2L863.7,421.3L866.0,420.5L866.6,423.0L865.2,427.1L863.7,431.7L861.0,430.0L859.0,428.6L856.5,430.5L854.4,431.7L851.0,431.5L847.4,432.5L848.5,434.5L850.5,436.4L856.0,437.2L856.3,439.0L856.0,441.0L851.3,440.2L849.0,441.0L850.0,443.0L852.1,444.5L857.5,445.7L860.6,444.1L857.0,446.5L852.9,448.0L847.4,454.2L842.8,458.8L839.7,461.9L838.9,468.1L835.0,469.5L835.0,440.0L840.0,420.0Z" fill="#dc282b"/>
<path class="thin" d="M184.3,555.4L183.3,555.1L182.3,554.8L181.3,554.5L180.3,554.2L179.3,553.9L178.3,553.6L177.3,553.3L176.4,553.3L175.5,553.3L174.6,553.4L173.6,553.4L172.7,553.4L171.8,553.4L170.9,553.4L169.9,553.3L169.0,553.2L168.1,553.1L167.1,553.0L166.2,552.9L165.3,552.8L164.4,552.6L163.4,552.6L162.3,552.5L161.3,552.4L160.3,552.3L159.3,552.2L158.2,551.8L157.2,551.3L156.2,550.9L155.2,550.4L154.2,549.9L153.2,549.7L152.2,549.5L151.2,549.3L150.2,549.1L149.2,548.8L148.2,548.3L147.2,547.8L146.3,547.3L145.3,546.7L144.3,546.2L143.3,546.9L142.3,547.7L141.3,548.4L140.2,549.2L139.2,549.9L138.2,550.3L137.1,550.6L136.1,551.0L135.1,551.3L134.0,551.7L132.9,552.4L131.8,553.2L130.7,554.0L129.6,554.7L128.4,555.4L127.3,557.0L126.2,558.6L125.1,560.2L124.1,560.4L123.0,560.5L121.9,560.7L120.8,560.9L119.7,561.0L118.7,561.2L117.6,561.3L116.4,563.1L115.2,564.8L116.1,565.5L117.0,566.2L117.9,566.9L118.8,567.6L119.7,568.3L120.6,569.9L121.5,571.5L122.4,573.2L122.3,575.4L123.4,575.7L124.4,576.0L125.4,576.3L126.4,576.5L127.4,576.8L128.2,578.1L128.9,579.5L129.7,580.8L128.4,581.6L127.2,582.4L126.0,583.2L124.8,583.9L123.8,583.6L122.9,583.3L121.9,583.0L121.0,582.7L121.5,580.9L122.1,579.1L121.0,579.3L120.0,579.5L118.9,579.7L117.8,579.9L116.8,580.1L115.7,580.3L114.6,580.5L113.4,581.1L112.3,581.7L111.1,582.3L109.9,582.8L108.6,583.4L107.4,584.0L108.5,585.0L109.5,585.9L110.6,586.9L111.7,587.9L111.7,590.1L111.8,592.4L113.0,593.0L114.2,593.6L115.3,593.8L116.3,594.0L117.4,594.1L118.5,594.3L119.6,594.5L120.7,594.6L121.8,594.8L122.9,595.1L124.1,595.5L125.3,595.8L126.4,596.1L127.4,594.7L128.3,593.3L128.4,595.6L128.5,597.8L128.3,600.3L127.0,601.7L125.6,603.1L124.7,602.9L123.7,602.8L122.5,603.1L121.2,603.5L120.0,603.8L118.8,604.1L117.6,604.7L116.4,605.3L115.2,605.9L114.0,606.4L113.0,607.4L112.0,608.3L110.7,610.4L109.4,612.4L108.1,614.5L108.6,616.4L109.1,618.4L110.0,620.9L110.9,623.3L111.8,624.7L112.7,626.1L113.6,627.5L114.9,627.7L116.3,627.9L117.7,628.1L119.1,628.2L120.1,629.1L120.1,631.8L120.2,634.4L119.6,636.4L119.1,638.4L120.6,638.4L122.1,638.5L123.6,638.5L124.9,638.3L126.2,638.0L127.5,637.8L128.7,638.5L129.9,639.2L131.2,640.0L132.2,638.5L133.3,637.1L134.5,638.0L135.7,638.8L137.0,639.6L137.9,639.6L138.9,639.7L138.1,642.4L137.3,645.1L136.5,647.8L134.9,649.4L133.1,651.1L131.4,652.7L129.9,653.9L128.3,655.1L126.7,656.3L125.1,657.5L123.5,658.7L122.4,659.0L121.4,659.3L119.7,659.6L118.1,660.0L116.5,660.4L114.9,660.7L113.7,663.6L112.0,664.7L110.4,665.8L108.6,666.1L106.8,666.5L105.0,666.8L103.9,668.1L105.3,668.1L106.8,668.0L108.2,668.0L109.6,667.9L111.3,667.3L113.0,666.7L114.7,666.1L116.4,665.4L118.1,664.9L119.8,664.3L121.4,663.7L123.1,663.2L124.6,662.3L126.0,661.5L127.5,660.6L128.9,660.2L130.4,659.8L131.8,659.4L132.3,657.2L133.8,656.4L135.3,655.5L136.8,654.7L138.3,653.8L139.7,652.4L141.1,651.0L142.4,649.5L143.8,648.6L145.1,647.6L146.5,646.6L147.5,645.4L148.6,644.2L149.6,642.9L150.8,641.6L152.0,640.2L153.1,638.8L152.7,636.8L152.3,634.7L151.0,633.6L149.7,632.5L151.2,632.0L152.7,631.5L154.1,631.0L155.0,629.8L155.9,628.7L156.8,627.2L157.7,625.7L158.9,624.1L160.1,622.6L161.3,622.1L162.4,621.6L163.5,621.0L164.7,620.5L165.6,621.6L166.6,622.6L165.3,623.1L164.0,623.5L162.8,624.0L161.5,624.4L160.2,624.8L160.2,625.9L159.4,628.4L158.6,630.9L159.8,633.1L159.1,634.6L158.4,636.1L159.7,635.7L161.0,635.2L162.3,634.8L163.6,634.4L164.9,632.9L166.2,631.5L167.5,630.0L168.6,629.8L169.7,629.6L170.8,629.4L170.1,626.5L169.5,623.5L170.9,623.0L172.2,622.5L173.6,622.0L174.9,621.5L176.2,621.0L177.5,620.5L178.9,622.4L180.2,624.3L181.5,625.2L182.8,626.0L184.1,626.9L185.5,627.7L186.4,627.6L187.3,627.5L188.8,627.3L190.2,627.2L191.7,627.0L193.2,626.8L194.6,626.6L195.6,626.4L196.5,626.3L197.8,626.6L199.2,627.0L200.5,627.3L201.9,627.6L203.3,627.9L204.6,628.5L206.0,629.0L207.4,629.6L208.8,630.1L210.5,631.1L212.3,632.0L214.0,633.0L215.8,633.9L217.5,634.8L219.4,637.0L221.2,639.2L223.0,640.5L224.8,641.7L226.2,643.5L227.6,645.3L228.9,647.1L230.7,647.7L232.4,648.4L234.1,650.5L235.9,652.7L237.7,653.1L239.5,653.5L241.4,653.8L243.2,654.2L244.6,653.7L246.0,653.2L247.4,652.7L248.8,652.2L249.3,649.7L249.7,647.1L248.9,645.0L248.1,642.9L246.2,642.4L244.3,641.8L242.4,641.2L240.6,640.6L238.7,640.0L236.8,638.0L234.8,636.0L232.9,634.0L231.0,631.9L229.1,629.9L227.2,628.7L225.3,627.4L223.5,626.2L222.3,625.4L221.0,624.6L219.7,623.4L218.4,622.2L217.4,623.3L216.4,624.3L215.4,625.4L214.6,627.1L213.7,628.9L212.9,630.7L211.9,628.2L210.1,627.0L208.4,625.7L206.7,624.5L205.6,624.0L204.6,623.4L203.6,623.4L202.5,623.4L201.5,623.4L200.3,623.4L199.0,623.4L197.8,623.4L197.2,620.5L196.7,617.7L196.1,614.8L195.5,612.0L195.0,609.1L194.4,606.3L193.8,603.4L193.3,600.6L192.7,597.7L192.1,594.9L191.6,592.0L191.0,589.2L190.4,586.4L189.9,583.5L189.3,580.7L188.8,577.9L188.2,575.0L187.6,572.2L187.1,569.4L186.5,566.6L186.0,563.8L185.4,561.0L184.9,558.2ZM157.0,640.6L157.6,643.2L158.3,645.8L157.2,647.5L156.0,649.2L154.8,650.5L153.6,651.8L152.4,653.2L151.2,654.5L150.0,653.1L148.8,651.7L147.6,650.4L149.0,648.5L150.4,646.6L151.5,645.4L152.5,644.2L153.5,642.9L154.7,642.1L155.8,641.4ZM92.6,596.4L93.8,596.4L95.0,596.3L96.2,596.2L97.4,596.1L98.4,597.2L99.5,598.2L100.5,599.2L101.6,600.2L100.4,600.7L99.3,601.2L98.1,601.7L97.0,601.0L96.0,600.2L94.9,599.5L93.9,598.8L92.8,598.0ZM101.5,623.8L102.7,623.7L104.0,623.5L105.2,623.4L106.4,623.2L106.9,624.8L107.4,626.4L106.3,626.8L105.2,627.1L104.2,627.4L103.2,626.7L102.2,626.0L101.2,625.3ZM97.4,670.0L95.8,669.9L94.3,669.8L92.7,671.1L91.1,672.4L89.4,673.7L87.6,674.4L85.8,675.0L84.0,675.6L84.1,673.3L85.7,672.7L87.4,672.0L89.0,671.4L90.7,670.7L92.3,670.0L93.9,669.4L95.1,669.6L96.2,669.8ZM67.3,675.1L65.7,674.8L64.1,674.5L62.5,674.1L60.9,673.8L59.3,673.5L58.3,675.1L59.9,675.4L61.5,675.6L63.2,675.9L64.8,676.2L66.5,676.4ZM51.2,673.1L49.6,672.9L48.1,672.6L46.6,672.3L45.2,672.0L43.8,671.8L42.4,671.5L42.3,673.1L43.9,673.4L45.5,673.6L47.1,673.9L48.7,674.1L50.2,674.4Z" fill="#f1f2f4"/>
<path class="thin" d="M349.8,647.2L356.3,650.2L362.8,653.2L365.3,658.5L370.7,662.9L363.8,667.4L356.9,671.9L353.3,675.9L348.5,671.9L347.1,665.3L345.6,658.6L350.2,652.2ZM333.0,632.9L334.8,631.2L341.8,632.8L347.2,637.0L342.8,639.8L338.0,640.2L336.8,636.0L333.0,634.6ZM320.8,629.7L321.8,627.2L327.1,627.7L332.4,628.2L329.8,630.8L325.3,630.2ZM325.8,633.5L330.4,636.0L327.4,637.3ZM301.3,619.7L307.3,616.8L310.6,621.1L313.9,625.5L310.9,626.3L304.9,625.4ZM271.6,609.4L275.6,605.7L281.2,607.4L280.5,611.6L275.2,613.0ZM262.2,614.5L265.7,610.4L266.2,612.5L263.2,615.0Z" fill="#f1f2f4"/>

</g>
<g id="labels">
<text transform="translate(175.0,178.4) scale(0.60,1)" fill="#555">WA</text>
<text transform="translate(156.0,244.4) scale(0.60,1)" fill="#555">OR</text>
<text class="w" transform="translate(244.0,270.4) scale(0.60,1)" fill="#fff">ID</text>
<text transform="translate(329.0,218.3) scale(0.60,1)" fill="#555">MT</text>
<text transform="translate(348.0,302.8) scale(0.60,1)" fill="#555">WY</text>
<text class="w" transform="translate(192.0,354.4) scale(0.60,1)" fill="#fff">NV</text>
<text transform="translate(272.0,371.4) scale(0.60,1)" fill="#555">UT</text>
<text class="w" transform="translate(370.0,390.4) scale(0.60,1)" fill="#fff">CO</text>
<text class="w" transform="translate(137.0,415.4) scale(0.60,1)" fill="#fff">CA</text>
<text transform="translate(255.0,476.4) scale(0.60,1)" fill="#555">AZ</text>
<text transform="translate(350.0,487.4) scale(0.60,1)" fill="#555">NM</text>
<text class="w" transform="translate(467.0,220.8) scale(0.60,1)" fill="#fff">ND</text>
<text transform="translate(462.0,279.8) scale(0.60,1)" fill="#555">SD</text>
<text transform="translate(470.0,343.4) scale(0.60,1)" fill="#555">NE</text>
<text transform="translate(488.0,408.4) scale(0.60,1)" fill="#555">KS</text>
<text class="w" transform="translate(501.0,471.4) scale(0.60,1)" fill="#fff">OK</text>
<text class="w" transform="translate(466.0,557.4) scale(0.60,1)" fill="#fff">TX</text>
<text class="w" transform="translate(546.5,247.4) scale(0.60,1)" fill="#fff">MN</text>
<text class="w" transform="translate(565.0,332.4) scale(0.60,1)" fill="#fff">IA</text>
<text class="w" transform="translate(585.0,412.4) scale(0.60,1)" fill="#fff">MO</text>
<text class="w" transform="translate(587.0,485.4) scale(0.60,1)" fill="#fff">AR</text>
<text transform="translate(589.0,558.4) scale(0.60,1)" fill="#555">LA</text>
<text transform="translate(617.0,273.4) scale(0.60,1)" fill="#555">WI</text>
<text transform="translate(635.0,370.9) scale(0.60,1)" fill="#555">IL</text>
<text transform="translate(683.0,369.8) scale(0.60,1)" fill="#555">IN</text>
<text transform="translate(734.0,358.4) scale(0.60,1)" fill="#555">OH</text>
<text class="w" transform="translate(697.8,291.4) scale(0.60,1)" fill="#fff">MI</text>
<text transform="translate(704.0,419.4) scale(0.60,1)" fill="#555">KY</text>
<text class="w" transform="translate(690.0,457.4) scale(0.60,1)" fill="#fff">TN</text>
<text transform="translate(639.0,528.4) scale(0.60,1)" fill="#555">MS</text>
<text class="w" transform="translate(688.0,523.4) scale(0.60,1)" fill="#fff">AL</text>
<text transform="translate(749.0,518.6) scale(0.60,1)" fill="#555">GA</text>
<text transform="translate(795.5,606.4) scale(0.60,1)" fill="#555">FL</text>
<text class="w" transform="translate(789.5,485.6) scale(0.60,1)" fill="#fff">SC</text>
<text class="w" transform="translate(809.0,447.4) scale(0.60,1)" fill="#fff">NC</text>
<text class="w" transform="translate(810.0,404.4) scale(0.60,1)" fill="#fff">VA</text>
<text transform="translate(778.0,385.4) scale(0.60,1)" fill="#555">WV</text>
<text transform="translate(814.0,330.4) scale(0.60,1)" fill="#555">PA</text>
<text transform="translate(843.0,275.4) scale(0.60,1)" fill="#555">NY</text>
<text class="w" transform="translate(921.0,206.4) scale(0.60,1)" fill="#fff">ME</text>
<text transform="translate(155.0,598.4) scale(0.60,1)" fill="#555">AK</text>
<text transform="translate(307.0,669.4) scale(0.60,1)" fill="#555">HI</text>
<rect x="913" y="424.0" width="20" height="19.5" fill="#8d1b1b"/>
<text class="s" transform="translate(938.5,439.9) scale(0.60,1)">VT</text>
<rect x="913" y="451.4" width="20" height="19.5" fill="#dc282b"/>
<text class="s" transform="translate(938.5,467.4) scale(0.60,1)">NH</text>
<rect x="913" y="478.9" width="20" height="19.5" fill="#dc282b"/>
<text class="s" transform="translate(938.5,494.8) scale(0.60,1)">MA</text>
<rect x="913" y="506.4" width="20" height="19.5" fill="#f1f2f4"/>
<text class="s" transform="translate(938.5,522.3) scale(0.60,1)">RI</text>
<rect x="913" y="533.8" width="20" height="19.5" fill="#f1f2f4"/>
<text class="s" transform="translate(938.5,549.7) scale(0.60,1)">CT</text>
<rect x="913" y="561.2" width="20" height="19.5" fill="#f1f2f4"/>
<text class="s" transform="translate(938.5,577.2) scale(0.60,1)">NJ</text>
<rect x="913" y="588.7" width="20" height="19.5" fill="#f1f2f4"/>
<text class="s" transform="translate(938.5,604.6) scale(0.60,1)">DE</text>
<rect x="913" y="616.1" width="20" height="19.5" fill="#f1f2f4"/>
<text class="s" transform="translate(938.5,632.1) scale(0.60,1)">MD</text>
<rect x="610.5" y="641.8" width="19.5" height="19.5" fill="#f1f2f4"/>
<text class="s" transform="translate(635.0,657.7) scale(0.60,1)">AS</text>
<rect x="665.5" y="641.8" width="19.5" height="19.5" fill="#f1f2f4"/>
<text class="s" transform="translate(690.0,657.7) scale(0.60,1)">PR</text>
<rect x="720.5" y="641.8" width="19.5" height="19.5" fill="#f1f2f4"/>
<text class="s" transform="translate(745.0,657.7) scale(0.60,1)">NMI</text>
<rect x="610.5" y="671.3" width="19.5" height="19.5" fill="#dc282b"/>
<text class="s" transform="translate(635.0,687.2) scale(0.60,1)">VI</text>
<rect x="665.5" y="671.3" width="19.5" height="19.5" fill="#f1f2f4"/>
<text class="s" transform="translate(690.0,687.2) scale(0.60,1)">GU</text>
<rect x="720.5" y="671.3" width="19.5" height="19.5" fill="#8d1b1b"/>
<text class="s" transform="translate(745.0,687.2) scale(0.60,1)">DC</text>
</g>
<circle cx="448.7" cy="90.2" r="6" fill="#dc282b"/>
<circle cx="523.2" cy="90.2" r="6" fill="#8d1b1b"/>
<polyline points="570.3,40.6 575.6,45.2 570.3,49.8" fill="none" stroke="#4169e1" stroke-width="1.1"/>
<rect x="382" y="51" width="186" height="1.2" fill="#4169e1"/>
</svg>
<!-- tables -->
<div class="abs" style="left:41px;top:804px;width:445px;height:1px;background:#999"></div>
<div class="abs" style="left:546px;top:804px;width:445px;height:1px;background:#999"></div>
<div class="abs" style="left:517px;top:792px;width:1px;height:157px;background:#e2e2e2"></div>
<div class="abs" style="left:355.3px;top:774px;width:130.6px;height:20px;background:#fcd116"></div>
<div class="abs" style="left:860.4px;top:774px;width:130.6px;height:20px;background:#fcd116"></div>
<div class="abs" style="left:41px;top:837px;width:171px;height:55.7px;background:#8d1b1b"></div>
<div class="abs" style="left:546px;top:837px;width:171px;height:55.7px;background:#dc282b"></div>
<div class="abs" style="left:113.1px;top:856px;width:20px;height:20px;background:#fcd116"></div>
<div class="abs" style="left:621.9px;top:856px;width:20px;height:20px;background:#fcd116"></div>
<svg width="1036" height="969" viewBox="0 0 1036 969">
<circle cx="56.9" cy="865.6" r="6" fill="#fff"/>
<circle cx="56.9" cy="921.3" r="6" fill="#dc282b"/>
<circle cx="561.9" cy="865.6" r="6" fill="#fff"/>
<circle cx="561.9" cy="921.3" r="6" fill="#8d1b1b"/>
<polyline points="116.1,866.8 120.8,871.2 129.9,861.2" fill="none" stroke="#222" stroke-width="2.5"/>
<polyline points="624.9,866.8 629.6,871.2 638.7,861.2" fill="none" stroke="#222" stroke-width="2.5"/>
<polyline points="468.2,784.4 471.7,787.7 479,779.9" fill="none" stroke="#222" stroke-width="1.5"/>
<polyline points="973.3,784.4 976.8,787.7 984.1,779.9" fill="none" stroke="#222" stroke-width="1.5"/>
</svg>
<span class="t" style="top:21.7px;font-size:32.41px;color:#0a0a0a;font-weight:700;-webkit-text-stroke:0.7px #0a0a0a;left:41.1px;transform:scaleX(0.7663);transform-origin:0 0;">Republican Primary Results</span>
<span class="t lnk" style="top:33.1px;font-size:18.90px;color:#4169e1;left:382.1px;transform:scaleX(0.6595);transform-origin:0 0;">VIEW DELEGATE BREAKDOWN</span>
<span class="t" style="top:81.0px;font-size:19.77px;color:#666;left:460.9px;transform:scaleX(0.6425);transform-origin:0 0;">Trump</span>
<span class="t" style="top:81.0px;font-size:19.77px;color:#666;left:534.9px;transform:scaleX(0.6590);transform-origin:0 0;">Haley</span>
<span class="t" style="top:771.1px;font-size:25.44px;color:#111;-webkit-text-stroke:0.6px #111;left:41.8px;transform:scaleX(0.7853);transform-origin:0 0;">Vermont</span>
<span class="t" style="top:774.1px;font-size:21.80px;color:#222;left:132.2px;transform:scaleX(0.6641);transform-origin:0 0;">17 delegates</span>
<span class="t" style="top:775.7px;font-size:15.26px;color:#111;-webkit-text-stroke:0.3px #111;left:360.2px;transform:scaleX(0.6314);transform-origin:0 0;">PROJECTED WINNER</span>
<span class="t" style="top:814.3px;font-size:18.90px;color:#777;left:41.3px;transform:scaleX(0.6744);transform-origin:0 0;">Candidate</span>
<span class="t" style="top:814.3px;font-size:18.90px;color:#777;left:254.0px;transform:scaleX(0.6864);transform-origin:0 0;">Del.</span>
<span class="t" style="top:814.3px;font-size:18.90px;color:#777;left:378.5px;transform:scaleX(0.7053);transform-origin:0 0;">Votes</span>
<span class="t" style="top:814.3px;font-size:18.90px;color:#777;left:462.7px;transform:scaleX(0.7433);transform-origin:0 0;">Pct.</span>
<span class="t" style="top:855.7px;font-size:20.06px;color:#fff;font-weight:700;left:67.4px;transform:scaleX(0.6505);transform-origin:0 0;">Haley</span>
<span class="t" style="top:856.3px;font-size:19.33px;color:#444;left:261.4px;transform:scaleX(0.6812);transform-origin:0 0;">+9</span>
<span class="t" style="top:856.3px;font-size:19.33px;color:#444;left:366.5px;transform:scaleX(0.7710);transform-origin:0 0;">36,059</span>
<span class="t" style="top:856.3px;font-size:19.33px;color:#111;font-weight:700;left:440.9px;transform:scaleX(0.8239);transform-origin:0 0;">50.2%</span>
<span class="t" style="top:912.2px;font-size:19.33px;color:#111;-webkit-text-stroke:0.5px #111;left:68.9px;transform:scaleX(0.6915);transform-origin:0 0;">Trump</span>
<span class="t" style="top:912.2px;font-size:19.33px;color:#444;left:268.4px;transform:scaleX(0.7500);transform-origin:0 0;">0</span>
<span class="t" style="top:912.2px;font-size:19.33px;color:#444;left:368.0px;transform:scaleX(0.7453);transform-origin:0 0;">32,913</span>
<span class="t" style="top:912.2px;font-size:19.33px;color:#111;font-weight:700;left:440.9px;transform:scaleX(0.8239);transform-origin:0 0;">45.8%</span>
<span class="t" style="top:771.1px;font-size:25.44px;color:#111;-webkit-text-stroke:0.6px #111;left:547.1px;transform:scaleX(0.7959);transform-origin:0 0;">Virginia</span>
<span class="t" style="top:774.1px;font-size:21.80px;color:#222;left:631.5px;transform:scaleX(0.7028);transform-origin:0 0;">48 delegates</span>
<span class="t" style="top:775.7px;font-size:15.26px;color:#111;-webkit-text-stroke:0.3px #111;left:865.3px;transform:scaleX(0.6314);transform-origin:0 0;">PROJECTED WINNER</span>
<span class="t" style="top:814.3px;font-size:18.90px;color:#777;left:546.1px;transform:scaleX(0.6744);transform-origin:0 0;">Candidate</span>
<span class="t" style="top:814.3px;font-size:18.90px;color:#777;left:759.4px;transform:scaleX(0.6864);transform-origin:0 0;">Del.</span>
<span class="t" style="top:814.3px;font-size:18.90px;color:#777;left:883.6px;transform:scaleX(0.7053);transform-origin:0 0;">Votes</span>
<span class="t" style="top:814.3px;font-size:18.90px;color:#777;left:967.7px;transform:scaleX(0.7433);transform-origin:0 0;">Pct.</span>
<span class="t" style="top:855.7px;font-size:20.06px;color:#fff;font-weight:700;left:573.7px;transform:scaleX(0.6261);transform-origin:0 0;">Trump</span>
<span class="t" style="top:856.3px;font-size:19.33px;color:#444;left:758.1px;transform:scaleX(0.7179);transform-origin:0 0;">+42</span>
<span class="t" style="top:856.3px;font-size:19.33px;color:#444;left:863.6px;transform:scaleX(0.7668);transform-origin:0 0;">435,839</span>
<span class="t" style="top:856.3px;font-size:19.33px;color:#111;font-weight:700;left:947.9px;transform:scaleX(0.7873);transform-origin:0 0;">63.1%</span>
<span class="t" style="top:912.2px;font-size:19.33px;color:#111;-webkit-text-stroke:0.5px #111;left:573.0px;transform:scaleX(0.7015);transform-origin:0 0;">Haley</span>
<span class="t" style="top:912.2px;font-size:19.33px;color:#444;left:766.6px;transform:scaleX(0.6812);transform-origin:0 0;">+6</span>
<span class="t" style="top:912.2px;font-size:19.33px;color:#444;left:864.6px;transform:scaleX(0.7416);transform-origin:0 0;">241,004</span>
<span class="t" style="top:912.2px;font-size:19.33px;color:#111;font-weight:700;left:945.9px;transform:scaleX(0.8239);transform-origin:0 0;">34.9%</span>
<div class="abs" style="left:0;top:949px;width:1036px;height:20px;background:#161616;overflow:hidden">
<span class="abs" style="left:900.5px;top:-3.5px;font-size:34px;font-weight:700;color:#fcc332;line-height:1;white-space:nowrap;-webkit-text-stroke:1.3px #fcc332;transform:rotate(-3.5deg) scaleX(0.865);transform-origin:0 50%">ifunny.c</span>
<svg width="1036" height="20" viewBox="0 949 1036 20">
<circle cx="1020.4" cy="956.9" r="7.9" fill="#fcc332"/>
<circle cx="1017.7" cy="954.6" r="1.1" fill="#161616"/>
<circle cx="1023.1" cy="954.6" r="1.1" fill="#161616"/>
<path d="M1015.8,958.3 Q1020.4,963.6 1025,958.3" fill="none" stroke="#161616" stroke-width="1.3" stroke-linecap="round"/>
</svg>
</div>
</body></html>
